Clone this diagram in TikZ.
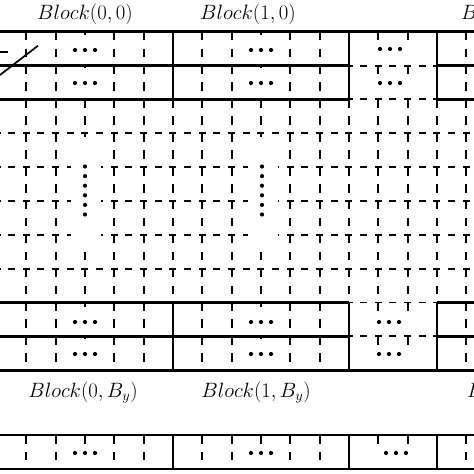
\documentclass[tikz,border=0pt]{standalone}
\usetikzlibrary{positioning}

\begin{document}
\begin{tikzpicture}[
  x=1pt,y=-1pt,
  wall/.style={line width=2.6pt},
  vdash/.style={line width=1.9pt,dash pattern=on 8.5pt off 8.425pt},
  hdash/.style={line width=1.9pt,dash pattern=on 7pt off 7.665pt,dash phase=3.5pt},
  lab/.style={font=\fontsize{20}{24}\selectfont,anchor=base,inner sep=0pt},
  blkdots/.style={fill=white,inner sep=0pt,minimum width=24pt,minimum height=30pt},
  lowdots/.style={fill=white,inner sep=0pt,minimum width=24pt,minimum height=16pt},
  gapdots/.style={fill=white,inner sep=0pt,minimum width=40pt,minimum height=16pt},
  hole/.style={fill=white,inner sep=0pt,minimum width=30pt,minimum height=107pt}
]
\useasboundingbox (0,0) rectangle (474,474);
\clip (0,0) rectangle (474,474);

% thread grid (dashed)
\foreach \k in {1,...,16} {
  \draw[vdash] ({-3+29.33*\k},31.7) -- ({-3+29.33*\k},370.2);
  \draw[vdash] ({-3+29.33*\k},435) -- ({-3+29.33*\k},469);
}
\foreach \j in {3,...,7}
  \draw[hdash] (-3,{31.7+33.85*\j}) -- (480,{31.7+33.85*\j});
\foreach \j in {1,2,8,9}
  \draw[hdash] (349,{31.7+33.85*\j}) -- (437,{31.7+33.85*\j});

% gaps round the ellipses
\node[hole] (h0) at (86,190.5) {};
\node[hole] (h1) at (263,190.5) {};
\node[blkdots] (d0a) at (85,50) {};
\node[blkdots] (d0b) at (85,83) {};
\node[blkdots] (d1a) at (261,50) {};
\node[blkdots] (d1b) at (261,83) {};
\node[gapdots] (g0a) at (390,49) {};
\node[gapdots] (g0b) at (390,83) {};
\node[blkdots] (d0c) at (85,322) {};
\node[blkdots] (d0d) at (85,354) {};
\node[blkdots] (d1c) at (261,322) {};
\node[blkdots] (d1d) at (261,354) {};
\node[gapdots] (g0c) at (389,322) {};
\node[gapdots] (g0d) at (389,354) {};
\node[lowdots] (d0e) at (85,453) {};
\node[lowdots] (d1e) at (261,453) {};
\node[gapdots] (g0e) at (396,453) {};

\foreach \n in {d0a,d0b,d1a,d1b,g0a,g0b,d0c,d0d,d1c,d1d,g0c,g0d,d0e,d1e,g0e}
  \foreach \d in {-10pt,0pt,10pt}
    \fill ([xshift=\d]\n) circle (2.1pt);
\foreach \n in {h0,h1}
  \foreach \i in {0,...,5}
    \fill ([xshift=-1pt,yshift={(2.5-\i)*9.6pt}]\n) circle (2.1pt);

% block borders
\draw[wall] (-5,31.7) -- (480,31.7);
\foreach \j in {1,2,8,9} {
  \draw[wall] (-5,{31.7+33.85*\j}) -- (349,{31.7+33.85*\j});
  \draw[wall] (437,{31.7+33.85*\j}) -- (480,{31.7+33.85*\j});
}
\draw[wall] (-5,370.2) -- (480,370.2);
\draw[wall] (-5,435) -- (480,435);
\draw[wall] (-5,469) -- (480,469);
\foreach \x in {-3,173,349,437} {
  \draw[wall] (\x,31.7) -- (\x,99.4);
  \draw[wall] (\x,302.5) -- (\x,370.2);
  \draw[wall] (\x,435) -- (\x,469);
}

% block labels
\node[lab] (t0) at (85,19) {$Block(0,0)$};
\node[lab] (t1) at (248,19) {$Block(1,0)$};
\node[lab,anchor=base west] (t2) at (461,19) {$Block(B_x,0)$};
\node[lab] (b0) at (83,397) {$Block(0,B_y)$};
\node[lab] (b1) at (256,397) {$Block(1,B_y)$};
\node[lab,anchor=base west] (b2) at (467,397) {$Block(B_x,B_y)$};

% pointer at the left edge
\coordinate (p0) at (-20,90.4);
\coordinate (p1) at (38,45.7);
\draw[line width=1.7pt] (p0) -- (p1);
\coordinate (q0) at (-5,52);
\coordinate (q1) at (8,52);
\draw[line width=2pt] (q0) -- (q1);
\end{tikzpicture}
\end{document}
